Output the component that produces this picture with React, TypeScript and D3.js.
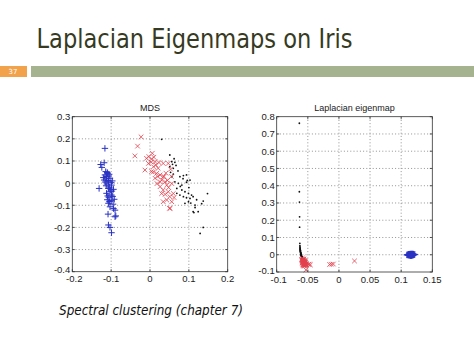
import React from "react";
import * as d3 from "d3";

const slideTitle = "Laplacian Eigenmaps on Iris";
const slideNumber = "37";
const caption = "Spectral clustering (chapter 7)";

const mdsTitle = "MDS";
const mdsXTicks = [-0.2, -0.1, 0, 0.1, 0.2];
const mdsYTicks = [-0.4, -0.3, -0.2, -0.1, 0, 0.1, 0.2, 0.3];

const lapTitle = "Laplacian eigenmap";
const lapXTicks = [-0.1, -0.05, 0, 0.05, 0.1, 0.15];
const lapYTicks = [-0.1, 0, 0.1, 0.2, 0.3, 0.4, 0.5, 0.6, 0.7, 0.8];

const mdsSetosa: [number, number][] = [[-0.116,0.157],[-0.127,0.084],[-0.118,0.092],[-0.124,0.071],[-0.114,0.052],[-0.109,0.044],[-0.116,0.037],[-0.106,0.032],[-0.112,0.022],[-0.103,0.022],[-0.118,0.014],[-0.107,0.006],[-0.1,0.002],[-0.111,-0.004],[-0.099,-0.009],[-0.131,-0.024],[-0.107,-0.024],[-0.094,-0.028],[-0.103,-0.039],[-0.112,-0.046],[-0.099,-0.054],[-0.106,-0.064],[-0.092,-0.073],[-0.1,-0.079],[-0.107,-0.091],[-0.103,-0.107],[-0.094,-0.115],[-0.09,-0.122],[-0.088,-0.148],[-0.09,-0.152],[-0.107,-0.189],[-0.103,-0.2],[-0.099,-0.224],[-0.112,0.03],[-0.108,0.012],[-0.113,-0.012],[-0.104,-0.018],[-0.11,0.048],[-0.105,0.04],[-0.115,0.005],[-0.098,-0.036],[-0.109,-0.058],[-0.096,-0.06],[-0.104,-0.083],[-0.11,-0.075],[-0.101,-0.03],[-0.12,0.025],[-0.097,0.01],[-0.108,-0.14],[-0.095,-0.095]];

const mdsVersicolor: [number, number][] = [[-0.023,0.209],[-0.032,0.167],[-0.039,0.123],[0.006,0.135],[-0.003,0.12],[0.01,0.117],[0.023,0.093],[-0.009,0.112],[0.004,0.109],[0.013,0.097],[-0.004,0.089],[0.009,0.074],[0.021,0.067],[-0.013,0.059],[0.004,0.052],[0.017,0.044],[0.026,0.037],[0.034,0.029],[0.013,0.022],[0.03,0.014],[0.039,0.006],[0.043,-0.009],[0.026,-0.016],[0.034,-0.031],[0.047,-0.039],[0.039,-0.051],[0.051,-0.061],[0.043,-0.076],[0.056,-0.084],[0.05,-0.114],[0.053,0.063],[0.036,0.03],[0.047,0.089],[0.034,0.089],[0.009,0.051],[0.026,0.006],[0.056,-0.002],[0.06,-0.047],[0.03,-0.047],[0.034,-0.084],[0.052,-0.114],[0.015,0.082],[0.041,0.045],[0.02,0.03],[0.045,0.012],[0.055,0.03],[0.018,-0.002],[0.048,-0.02],[0.062,-0.065],[0.003,0.095]];

const mdsVirginica: [number, number][] = [[0.03,0.198],[0.051,0.127],[0.056,0.097],[0.064,0.094],[0.051,0.074],[0.06,0.067],[0.053,0.049],[0.06,0.04],[0.056,0.029],[0.077,0.029],[0.086,0.034],[0.094,0.037],[0.073,-0.001],[0.082,-0.009],[0.094,0.004],[0.069,-0.024],[0.082,-0.031],[0.09,-0.039],[0.099,-0.046],[0.107,-0.054],[0.077,-0.054],[0.086,-0.061],[0.094,-0.066],[0.103,-0.069],[0.111,-0.061],[0.069,-0.046],[0.099,-0.084],[0.09,-0.091],[0.116,-0.099],[0.111,-0.129],[0.124,-0.129],[0.103,0.014],[0.064,0.006],[0.129,-0.227],[0.148,-0.047],[0.137,-0.081],[0.133,-0.093],[0.116,-0.11],[0.113,-0.133],[0.137,-0.2],[0.058,0.085],[0.067,0.08],[0.096,0.012],[0.085,0.02],[0.1,-0.02],[0.078,-0.015],[0.12,-0.075],[0.105,-0.09],[0.072,0.055],[0.062,0.11]];

const lapSetosa: [number, number][] = [[0.112,0.0],[0.114,0.002],[0.115,-0.001],[0.116,0.003],[0.113,-0.003],[0.117,0.0],[0.118,0.002],[0.115,0.004],[0.114,-0.004],[0.116,-0.002],[0.119,0.001],[0.12,0.003],[0.111,0.001],[0.113,0.004],[0.117,-0.004],[0.115,0.001],[0.118,-0.002],[0.116,0.005],[0.114,0.0],[0.112,-0.002],[0.121,0.0],[0.119,-0.003],[0.117,0.002],[0.115,-0.003],[0.113,0.001],[0.11,0.0],[0.116,0.0],[0.118,0.004],[0.114,0.003],[0.12,-0.001],[0.122,0.002],[0.112,0.003],[0.115,-0.005],[0.117,-0.006],[0.119,0.005],[0.113,-0.001],[0.116,0.001],[0.114,-0.002],[0.118,0.0],[0.115,0.002],[0.109,-0.001],[0.12,0.001],[0.116,-0.004],[0.113,0.002],[0.117,0.004],[0.111,-0.003],[0.119,0.0],[0.115,0.0],[0.114,0.001],[0.116,0.002]];

const lapVersicolor: [number, number][] = [[-0.059,-0.02],[-0.058,-0.025],[-0.0585,-0.03],[-0.057,-0.028],[-0.0575,-0.035],[-0.0565,-0.033],[-0.058,-0.038],[-0.056,-0.04],[-0.057,-0.042],[-0.0555,-0.045],[-0.0565,-0.047],[-0.055,-0.05],[-0.0575,-0.05],[-0.056,-0.053],[-0.054,-0.055],[-0.0555,-0.058],[-0.053,-0.06],[-0.0545,-0.062],[-0.057,-0.057],[-0.0585,-0.045],[-0.059,-0.04],[-0.0595,-0.035],[-0.0555,-0.038],[-0.054,-0.048],[-0.0525,-0.052],[-0.056,-0.062],[-0.058,-0.055],[-0.0565,-0.025],[-0.06,-0.028],[-0.055,-0.043],[-0.0535,-0.057],[-0.0575,-0.06],[-0.052,-0.058],[-0.0548,-0.034],[-0.0592,-0.048],[-0.0568,-0.065],[-0.0538,-0.045],[-0.0552,-0.066],[-0.0582,-0.032],[-0.0562,-0.036],[-0.0545,-0.04],[-0.0572,-0.045],[-0.049,-0.056],[-0.046,-0.059],[-0.0475,-0.054],[-0.053,-0.088],[-0.015,-0.056],[-0.009,-0.054],[-0.012,-0.055],[0.025,-0.036]];

const lapVirginica: [number, number][] = [[-0.0636,0.762],[-0.0636,0.365],[-0.0634,0.305],[-0.0632,0.22],[-0.0632,0.16],[-0.0628,0.066],[-0.0627,0.052],[-0.0626,0.045],[-0.0625,0.04],[-0.0624,0.036],[-0.0623,0.031],[-0.0622,0.027],[-0.062,0.023],[-0.0621,0.02],[-0.0618,0.017],[-0.0617,0.014],[-0.0615,0.011],[-0.0614,0.008],[-0.0612,0.005],[-0.061,0.003],[-0.0609,0.0],[-0.0606,-0.002],[-0.0605,-0.005],[-0.0603,-0.007],[-0.06,-0.009],[-0.0598,-0.012],[-0.0597,-0.014],[-0.0594,-0.016],[-0.0592,-0.019],[-0.059,-0.021],[-0.0588,-0.024],[-0.0585,-0.026],[-0.0583,-0.029],[-0.058,-0.031],[-0.0578,-0.034],[-0.0575,-0.036],[-0.0612,0.01],[-0.0604,-0.004],[-0.0596,-0.013],[-0.0589,-0.022],[-0.058,-0.03],[-0.0619,0.025],[-0.0607,0.002],[-0.0586,-0.018],[-0.0573,-0.04],[-0.0577,-0.028],[-0.0601,-0.011],[-0.0624,0.033],[-0.0595,-0.02],[-0.0582,-0.033]];

const fmt = (v: number) => (Math.abs(v) < 1e-9 ? "0" : String(+v.toFixed(2)));

type Pt = [number, number];

function Plot(props: {
  left: number; top: number; width: number; height: number;
  xTicks: number[]; yTicks: number[]; title: string;
  setosa: Pt[]; versicolor: Pt[]; virginica: Pt[];
}) {
  const { left, top, width, height, xTicks, yTicks, title } = props;
  const x = d3.scaleLinear().domain([xTicks[0], xTicks[xTicks.length - 1]]).range([left, left + width]);
  const y = d3.scaleLinear().domain([yTicks[0], yTicks[yTicks.length - 1]]).range([top + height, top]);
  const font = "'Liberation Sans', Arial, sans-serif";
  const plus = 3.2;
  const cross = 2.3;
  return (
    <g>
      <rect x={left} y={top} width={width} height={height} fill="#fff" />
      {xTicks.slice(1, -1).map((t, i) => (
        <line key={"gx" + i} x1={x(t)} x2={x(t)} y1={top} y2={top + height} stroke="#777" strokeWidth={0.8} strokeDasharray="1,2.2" />
      ))}
      {yTicks.slice(1, -1).map((t, i) => (
        <line key={"gy" + i} x1={left} x2={left + width} y1={y(t)} y2={y(t)} stroke="#777" strokeWidth={0.8} strokeDasharray="1,2.2" />
      ))}
      {props.virginica.map((p, i) => (
        <circle key={"k" + i} cx={x(p[0])} cy={y(p[1])} r={0.9} fill="#111" />
      ))}
      {props.versicolor.map((p, i) => (
        <path key={"r" + i} d={`M${x(p[0]) - cross},${y(p[1]) - cross}L${x(p[0]) + cross},${y(p[1]) + cross}M${x(p[0]) - cross},${y(p[1]) + cross}L${x(p[0]) + cross},${y(p[1]) - cross}`} stroke="#e2404c" strokeWidth={0.8} fill="none" />
      ))}
      {props.setosa.map((p, i) => (
        <path key={"b" + i} d={`M${x(p[0]) - plus},${y(p[1])}L${x(p[0]) + plus},${y(p[1])}M${x(p[0])},${y(p[1]) - plus}L${x(p[0])},${y(p[1]) + plus}`} stroke="#2a33c2" strokeWidth={1} fill="none" />
      ))}
      <rect x={left} y={top} width={width} height={height} fill="none" stroke="#333" strokeWidth={0.8} />
      {xTicks.map((t, i) => (
        <g key={"tx" + i}>
          <line x1={x(t)} x2={x(t)} y1={top + height} y2={top + height - 2.5} stroke="#333" strokeWidth={0.8} />
          <line x1={x(t)} x2={x(t)} y1={top} y2={top + 2.5} stroke="#333" strokeWidth={0.8} />
          <text x={x(t) + (i === 0 ? 2 : 0)} y={top + height + 10.5} textAnchor="middle" fontSize={9.5} fontFamily={font} fill="#222">{fmt(t)}</text>
        </g>
      ))}
      {yTicks.map((t, i) => (
        <g key={"ty" + i}>
          <line x1={left} x2={left + 2.5} y1={y(t)} y2={y(t)} stroke="#333" strokeWidth={0.8} />
          <line x1={left + width} x2={left + width - 2.5} y1={y(t)} y2={y(t)} stroke="#333" strokeWidth={0.8} />
          <text x={left - 2} y={y(t) + (i === 0 ? 1.5 : 3.4)} textAnchor="end" fontSize={9.5} fontFamily={font} fill="#222">{fmt(t)}</text>
        </g>
      ))}
      <text x={left + width / 2} y={top - 5.5} textAnchor="middle" fontSize={9} fontFamily={font} fill="#222">{title}</text>
    </g>
  );
}

export default function App() {
  return (
    <svg width={474} height={355} style={{ position: "absolute", left: 0, top: 0, background: "#fff" }}>
      <rect x={0} y={0} width={474} height={355} fill="#fff" />
      <text x={36.5} y={48.3} fontSize={26} fontFamily="'DejaVu Sans', sans-serif" fill="#363a22" textLength={316} lengthAdjust="spacingAndGlyphs">{slideTitle}</text>
      <rect x={0} y={66} width={27} height={11} fill="#f2a24a" />
      <rect x={31} y={66} width={443} height={11} fill="#a5b48e" />
      <text x={13} y={74} textAnchor="middle" fontSize={7} fontFamily="'DejaVu Sans', sans-serif" fill="#fff">{slideNumber}</text>
      <Plot left={72.3} top={116.7} width={155.4} height={155} xTicks={mdsXTicks} yTicks={mdsYTicks} title={mdsTitle}
        setosa={mdsSetosa} versicolor={mdsVersicolor} virginica={mdsVirginica} />
      <Plot left={276.7} top={116.7} width={155.6} height={155.3} xTicks={lapXTicks} yTicks={lapYTicks} title={lapTitle}
        setosa={lapSetosa} versicolor={lapVersicolor} virginica={lapVirginica} />
      <text x={59} y={315} fontSize={13.5} fontStyle="italic" fontFamily="'DejaVu Sans', sans-serif" fill="#111" textLength={184} lengthAdjust="spacingAndGlyphs">{caption}</text>
    </svg>
  );
}
